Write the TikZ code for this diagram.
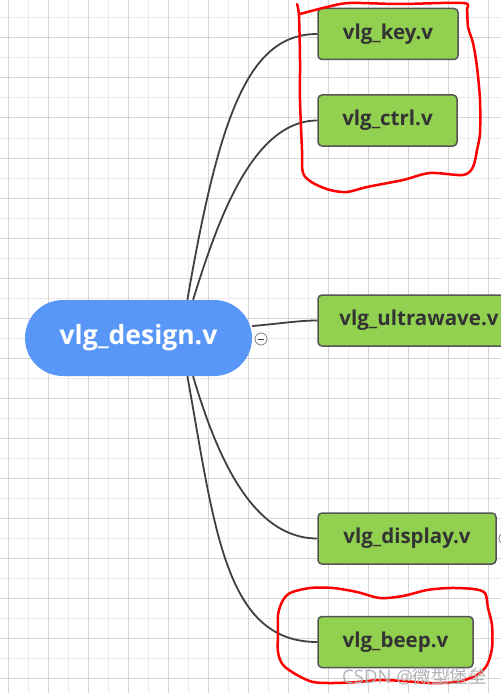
\documentclass[tikz,border=0pt]{standalone}
\usepackage{fontspec}
\setmainfont{Open Sans}
\newfontfamily\cjk{Noto Sans CJK SC}
\definecolor{mapblue}{RGB}{88,151,247}
\definecolor{mapgreen}{RGB}{146,208,80}
\definecolor{mapedge}{RGB}{85,85,85}
\definecolor{maptext}{RGB}{51,51,51}
\definecolor{mapline}{RGB}{64,64,64}
\definecolor{gridhi}{RGB}{214,214,214}
\definecolor{gridlo}{RGB}{234,234,234}
\tikzset{
  raiz/.style={fill=mapblue, text=white, font=\bfseries\fontsize{26.5bp}{30bp}\selectfont,
    rounded corners=38bp, minimum width=227bp, minimum height=76bp, inner sep=0pt},
  hoja/.style={fill=mapgreen, draw=mapedge, line width=1.5bp, text=maptext,
    font=\bfseries\fontsize{20.5bp}{24bp}\selectfont, rounded corners=4bp,
    minimum height=51bp, inner sep=0pt},
  rama/.style={draw=mapline, line width=1.8bp},
  marca/.style={draw=red, line width=2.5bp, line join=round, line cap=round},
  plegar/.style={circle, draw=gray, fill=white, minimum size=12bp, inner sep=0pt, line width=0.8bp}
}
\begin{document}
\begin{tikzpicture}[x=1bp, y=-1bp]
        \useasboundingbox (0,0) rectangle (501,693);
        \clip (0,0) rectangle (501,693);
        % Cuadricula de fondo
        \fill[white] (0,0) rectangle (501,693);
        \foreach \gx in {28,68,...,468} \draw[gridlo, line width=1bp] (\gx,0) -- (\gx,693);
        \foreach \gy in {18,58,...,658} \draw[gridlo, line width=1bp] (0,\gy) -- (501,\gy);
        \foreach \gx in {8,48,...,488} \draw[gridhi, line width=1bp] (\gx,0) -- (\gx,693);
        \foreach \gy in {38,78,...,678} \draw[gridhi, line width=1bp] (0,\gy) -- (501,\gy);
        % Nodo central
        \node[raiz] (design) at (138.5,338) {vlg\_design.v};
        % Modulos
        \node[hoja, minimum width=140bp] (key) at (388,34) {vlg\_key.v};
        \node[hoja, minimum width=139bp] (ctrl) at (387.5,120.5) {vlg\_ctrl.v};
        \node[hoja, minimum width=202bp] (ultra) at (419,320.5) {vlg\_ultrawave.v};
        \node[hoja, minimum width=178bp] (display) at (407,538.5) {vlg\_display.v};
        \node[hoja, minimum width=155bp] (beep) at (395.5,642) {vlg\_beep.v};
        % Ramas
        \draw[rama] (design.38) .. controls (220,110) and (250,34) .. (key.west);
        \draw[rama] (design.35) .. controls (215,230) and (250,120.5) .. (ctrl.west);
        \draw[rama] (design.6) .. controls (285,323) and (300,320.5) .. (ultra.west);
        \draw[rama] (design.-35) .. controls (215,450) and (250,538.5) .. (display.west);
        \draw[rama] (design.-38) .. controls (215,530) and (225,642) .. (beep.west);
        % Botones de plegado
        \node[plegar] (plegU) at (261,339) {};
        \draw[mapline, line width=0.9bp] ([xshift=3bp]plegU.west) -- ([xshift=-3bp]plegU.east);
        \node[plegar] (plegD) at (505,538.5) {};
        % Marcas a mano
        \draw[marca] plot[smooth, tension=0.5] coordinates {(297,4) (299,16) (300,60) (300,100)
          (302,150) (303,173) (313,183) (330,190) (347,192) (367,187) (403,180) (430,173)
          (463,175) (473,167) (477,150) (480,133) (480,100) (477,67) (473,43) (468,27)
          (467,10) (463,3) (400,4) (350,3) (327,7) (300,14)};
        \draw[marca] plot[smooth cycle, tension=0.5] coordinates {(290,593) (310,588) (333,588)
          (357,592) (380,598) (403,596) (427,590) (450,588) (473,589) (485,593) (488,608)
          (492,625) (492,648) (487,665) (477,675) (457,682) (430,683) (403,681) (380,680)
          (357,682) (333,683) (313,682) (297,675) (283,665) (278,652) (278,632) (278,615)
          (282,602)};
        % Marca de agua
        \node[text=gray!60, font=\fontsize{18.5bp}{20bp}\selectfont, anchor=base west, inner sep=0pt]
          (firma) at (342,683) {CSDN @{\cjk 微型堡垒}};
\end{tikzpicture}
\end{document}
